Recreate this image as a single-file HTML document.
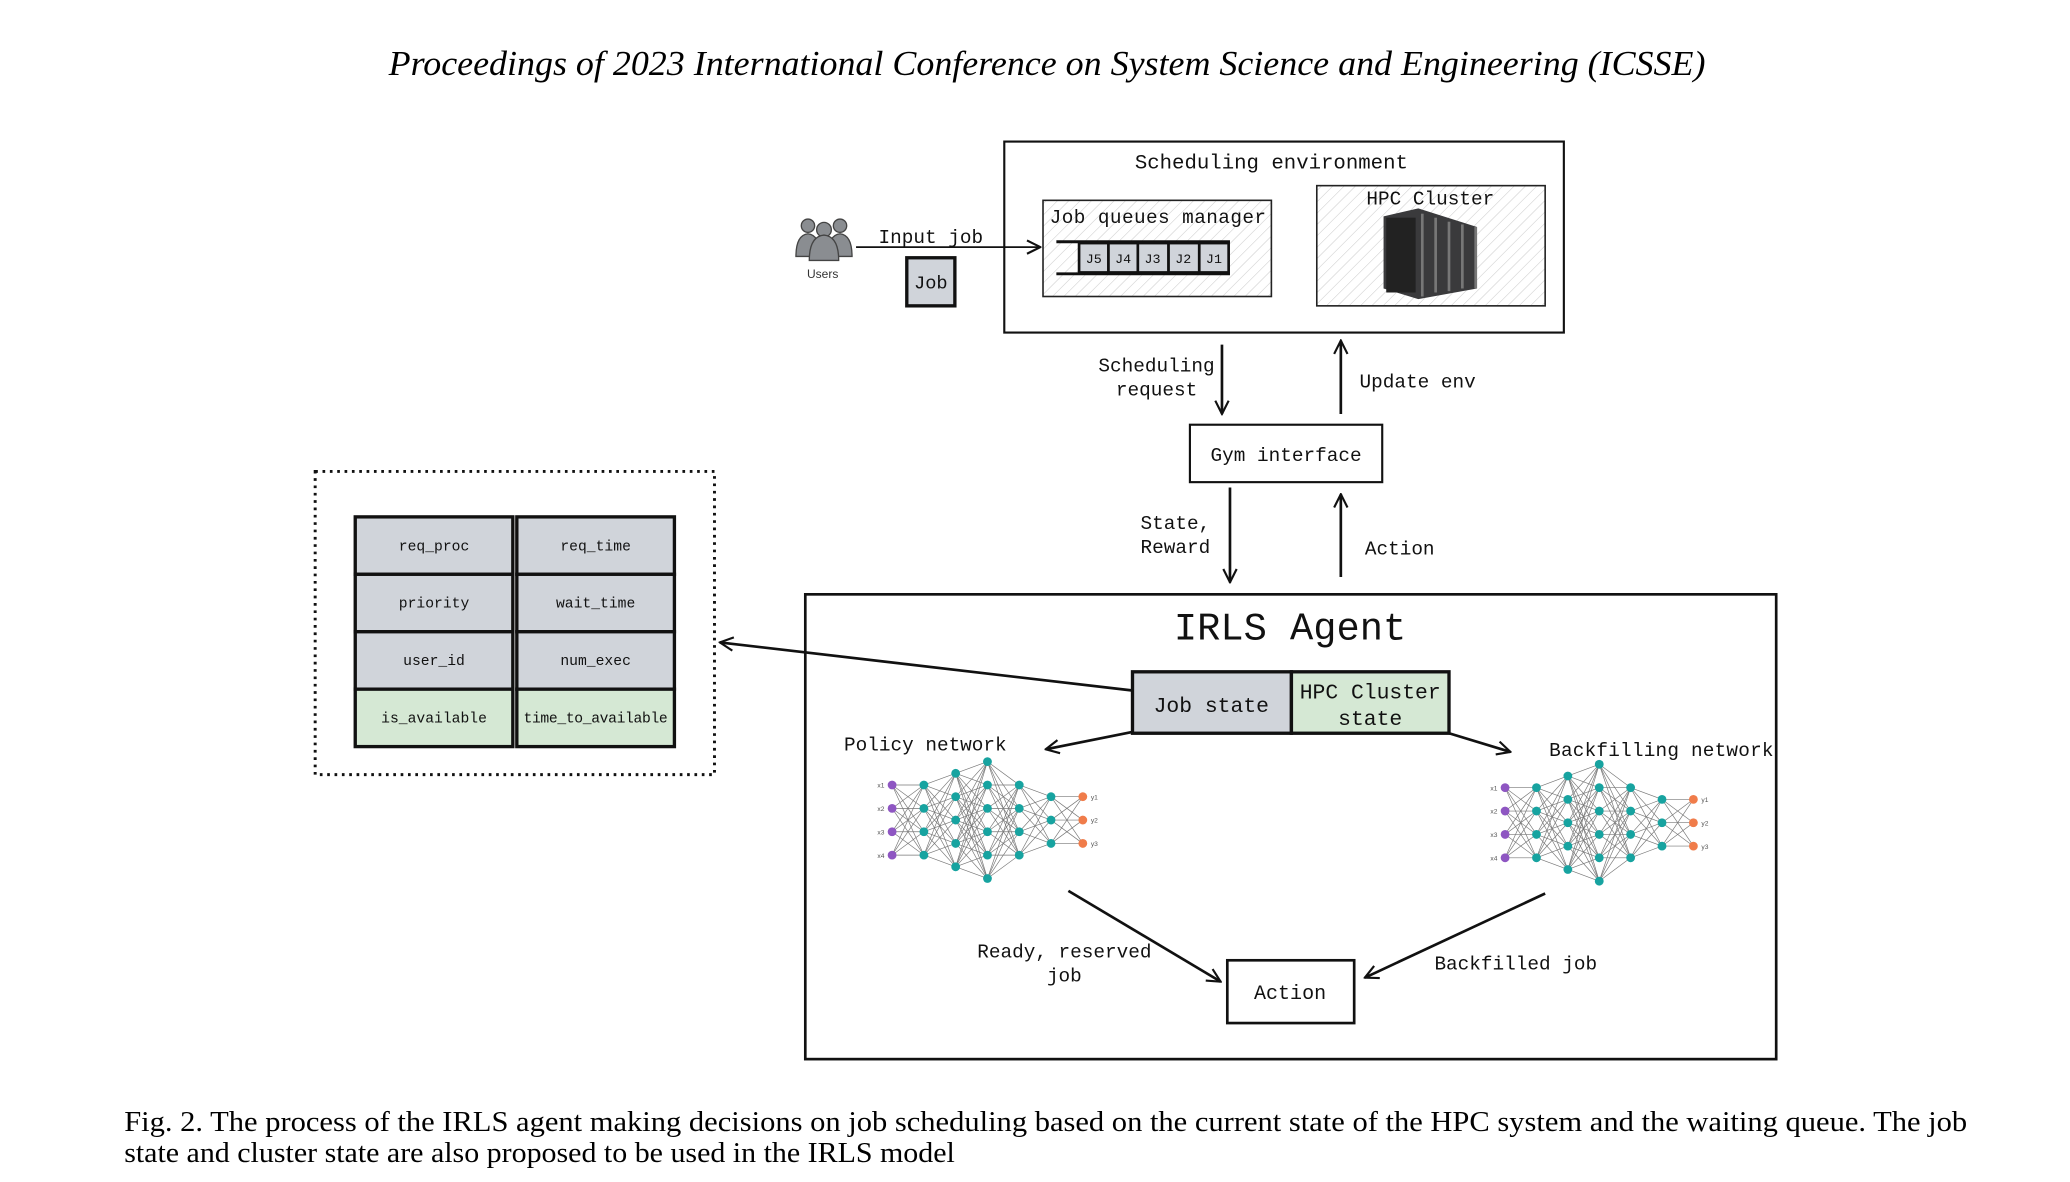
<!DOCTYPE html>
<html><head><meta charset="utf-8"><style>
html,body{margin:0;padding:0;background:#fff;width:2070px;height:1182px;overflow:hidden}
svg{display:block}
.m{font-family:"Liberation Mono","DejaVu Sans Mono",monospace;fill:#111}
.s{font-family:"Liberation Serif",serif;fill:#000}
</style></head><body>
<svg id="sv" width="2070" height="1182" viewBox="0 0 1550 885" preserveAspectRatio="none" xmlns="http://www.w3.org/2000/svg">
<defs>
<pattern id="h" width="6" height="6" patternUnits="userSpaceOnUse" patternTransform="rotate(45)"><line x1="0" y1="0" x2="0" y2="6" stroke="#ccc" stroke-width="0.8"/></pattern>
<marker id="a" viewBox="0 0 12 12" refX="11" refY="6" markerWidth="12" markerHeight="12" markerUnits="userSpaceOnUse" orient="auto"><path d="M1,1 L11,6 L1,11" fill="none" stroke="#111" stroke-width="1.6"/></marker>
</defs>
<text x="784" y="56" text-anchor="middle" class="s" font-size="26.5" font-style="italic" textLength="986" lengthAdjust="spacingAndGlyphs">Proceedings of 2023 International Conference on System Science and Engineering (ICSSE)</text>

<rect x="752" y="106" width="419" height="143" fill="none" stroke="#111" stroke-width="1.6"/>
<text x="952" y="126" text-anchor="middle" class="m" font-size="15.5">Scheduling environment</text>
<rect x="781" y="150" width="171" height="72" fill="url(#h)" stroke="#222" stroke-width="1.2"/>
<text x="786" y="167" class="m" font-size="14.5" textLength="162">Job queues manager</text>
<line x1="791" y1="181" x2="921" y2="181" stroke="#111" stroke-width="2.2"/>
<line x1="791" y1="205" x2="921" y2="205" stroke="#111" stroke-width="2.2"/>
<g stroke="#111" stroke-width="2" fill="#d0d4da">
<rect x="808" y="182" width="22" height="22"/><rect x="830" y="182" width="22" height="22"/><rect x="852" y="182" width="23" height="22"/><rect x="875" y="182" width="23" height="22"/><rect x="898" y="182" width="22" height="22"/></g>
<g class="m" font-size="10" text-anchor="middle"><text x="819" y="197">J5</text><text x="841" y="197">J4</text><text x="863" y="197">J3</text><text x="886" y="197">J2</text><text x="909" y="197">J1</text></g>
<rect x="986" y="139" width="171" height="90" fill="url(#h)" stroke="#222" stroke-width="1.2"/>
<text x="1071" y="153" text-anchor="middle" class="m" font-size="14.5">HPC Cluster</text>
<g>
<polygon points="1036,162 1062,156 1106,170 1106,216 1062,224 1036,216" fill="#3a3a3c"/>
<rect x="1038" y="163" width="22" height="56" fill="#222"/>
<g fill="#777"><rect x="1064" y="160" width="2" height="62"/><rect x="1074" y="163" width="2" height="56"/><rect x="1084" y="166" width="2" height="52"/><rect x="1094" y="168" width="2" height="48"/><rect x="1104" y="170" width="2" height="46"/></g>
</g>

<g fill="#8a8d91" stroke="#444" stroke-width="1">
<circle cx="605" cy="169" r="5"/><circle cx="629" cy="169" r="5"/>
<path d="M596,192 q0,-16 9,-17 q9,1 9,17 z"/><path d="M620,192 q0,-16 9,-17 q9,1 9,17 z"/>
<circle cx="617" cy="172" r="5.5"/><path d="M606,195 q0,-18 11,-19 q11,1 11,19 z"/>
</g>
<text x="616" y="208" text-anchor="middle" font-family="Liberation Sans,sans-serif" font-size="9" fill="#333">Users</text>
<line x1="641" y1="185" x2="779" y2="185" stroke="#111" stroke-width="1.3" marker-end="url(#a)"/>
<text x="697" y="182" text-anchor="middle" class="m" font-size="14.5">Input job</text>
<rect x="679" y="193" width="36" height="36" fill="#d0d4da" stroke="#111" stroke-width="2.5"/>
<text x="697" y="216" text-anchor="middle" class="m" font-size="14">Job</text>

<line x1="915" y1="258" x2="915" y2="310" stroke="#111" stroke-width="2" marker-end="url(#a)"/>
<text x="866" y="278" text-anchor="middle" class="m" font-size="14.5">Scheduling</text>
<text x="866" y="296" text-anchor="middle" class="m" font-size="14.5">request</text>
<line x1="1004" y1="310" x2="1004" y2="255" stroke="#111" stroke-width="2" marker-end="url(#a)"/>
<text x="1018" y="290" class="m" font-size="14.5">Update env</text>
<rect x="891" y="318" width="144" height="43" fill="#fff" stroke="#111" stroke-width="1.6"/>
<text x="963" y="345" text-anchor="middle" class="m" font-size="14.5">Gym interface</text>
<line x1="921" y1="365" x2="921" y2="436" stroke="#111" stroke-width="2" marker-end="url(#a)"/>
<text x="854" y="396" class="m" font-size="14.5">State,</text>
<text x="854" y="414" class="m" font-size="14.5">Reward</text>
<line x1="1004" y1="432" x2="1004" y2="370" stroke="#111" stroke-width="2" marker-end="url(#a)"/>
<text x="1022" y="415" class="m" font-size="14.5">Action</text>

<rect x="603" y="445" width="727" height="348" fill="none" stroke="#111" stroke-width="2"/>
<text x="966" y="479" text-anchor="middle" class="m" font-size="29">IRLS Agent</text>
<rect x="848" y="503" width="119" height="46" fill="#d0d4da" stroke="#111" stroke-width="2.5"/>
<rect x="967" y="503" width="118" height="46" fill="#d5e8d4" stroke="#111" stroke-width="2.5"/>
<text x="907" y="533" text-anchor="middle" class="m" font-size="16">Job state</text>
<text x="1026" y="523" text-anchor="middle" class="m" font-size="16">HPC Cluster</text>
<text x="1026" y="543" text-anchor="middle" class="m" font-size="16">state</text>
<line x1="848" y1="517" x2="539" y2="481" stroke="#111" stroke-width="2" marker-end="url(#a)"/>
<line x1="848" y1="548" x2="783" y2="561" stroke="#111" stroke-width="2" marker-end="url(#a)"/>
<line x1="1085" y1="549" x2="1131" y2="563" stroke="#111" stroke-width="2" marker-end="url(#a)"/>
<text x="632" y="562" class="m" font-size="14.5">Policy network</text>
<text x="1160" y="566" class="m" font-size="14.5" textLength="168">Backfilling network</text>
<g id="nn"></g>
<line x1="800" y1="667" x2="914" y2="735" stroke="#111" stroke-width="2" marker-end="url(#a)"/>
<line x1="1157" y1="669" x2="1022" y2="732" stroke="#111" stroke-width="2" marker-end="url(#a)"/>
<text x="797" y="717" text-anchor="middle" class="m" font-size="14.5">Ready, reserved</text>
<text x="797" y="735" text-anchor="middle" class="m" font-size="14.5">job</text>
<text x="1135" y="726" text-anchor="middle" class="m" font-size="14.5">Backfilled job</text>
<rect x="919" y="719" width="95" height="47" fill="#fff" stroke="#111" stroke-width="2"/>
<text x="966" y="748" text-anchor="middle" class="m" font-size="15">Action</text>

<rect x="236" y="353" width="299" height="227" fill="none" stroke="#111" stroke-width="2.2" stroke-dasharray="2,3.5"/>
<g stroke="#111" stroke-width="2.5">
<rect x="266" y="387" width="118" height="43" fill="#d0d4da"/><rect x="387" y="387" width="118" height="43" fill="#d0d4da"/>
<rect x="266" y="430" width="118" height="43" fill="#d0d4da"/><rect x="387" y="430" width="118" height="43" fill="#d0d4da"/>
<rect x="266" y="473" width="118" height="43" fill="#d0d4da"/><rect x="387" y="473" width="118" height="43" fill="#d0d4da"/>
<rect x="266" y="516" width="118" height="43" fill="#d5e8d4"/><rect x="387" y="516" width="118" height="43" fill="#d5e8d4"/>
</g>
<g class="m" font-size="11" text-anchor="middle">
<text x="325" y="412">req_proc</text><text x="446" y="412">req_time</text>
<text x="325" y="455">priority</text><text x="446" y="455">wait_time</text>
<text x="325" y="498">user_id</text><text x="446" y="498">num_exec</text>
<text x="325" y="541">is_available</text><text x="446" y="541" textLength="108">time_to_available</text>
</g>

<text x="93" y="847" class="s" font-size="21" textLength="1380" lengthAdjust="spacingAndGlyphs">Fig. 2.  The process of the IRLS agent making decisions on job scheduling based on the current state of the HPC system and the waiting queue. The job</text>
<text x="93" y="870" class="s" font-size="21" textLength="622" lengthAdjust="spacingAndGlyphs">state and cluster state are also proposed to be used in the IRLS model</text>
</svg>
<script>
(function(){
var g=document.getElementById('nn'),out='';
function net(x0,cy,dx,dy,counts){
 var L=[];
 counts.forEach(function(n,i){var col=[];for(var k=0;k<n;k++)col.push([x0+i*dx,cy+(k-(n-1)/2)*dy]);L.push(col);});
 for(var i=0;i<L.length-1;i++)L[i].forEach(function(p){L[i+1].forEach(function(q){out+='<line x1="'+p[0]+'" y1="'+p[1]+'" x2="'+q[0]+'" y2="'+q[1]+'" stroke="#777" stroke-width="0.5"/>';});});
 L.forEach(function(col,i){col.forEach(function(p,k){var c=i==0?'#8e56c2':(i==L.length-1?'#f07c4a':'#17a3a0');
  out+='<circle cx="'+p[0]+'" cy="'+p[1]+'" r="3.3" fill="'+c+'"/>';
  if(i==0)out+='<text x="'+(p[0]-11)+'" y="'+(p[1]+2)+'" font-size="5" fill="#555" font-family="Liberation Sans,sans-serif">x'+(k+1)+'</text>';
  if(i==L.length-1)out+='<text x="'+(p[0]+6)+'" y="'+(p[1]+2)+'" font-size="5" fill="#555" font-family="Liberation Sans,sans-serif">y'+(k+1)+'</text>';
 });});
}
net(668,614,23.8,17.5,[4,4,5,6,4,3,3]);
net(1127,616,23.5,17.5,[4,4,5,6,4,3,3]);
g.innerHTML=out;
})();
</script>
</body></html>
